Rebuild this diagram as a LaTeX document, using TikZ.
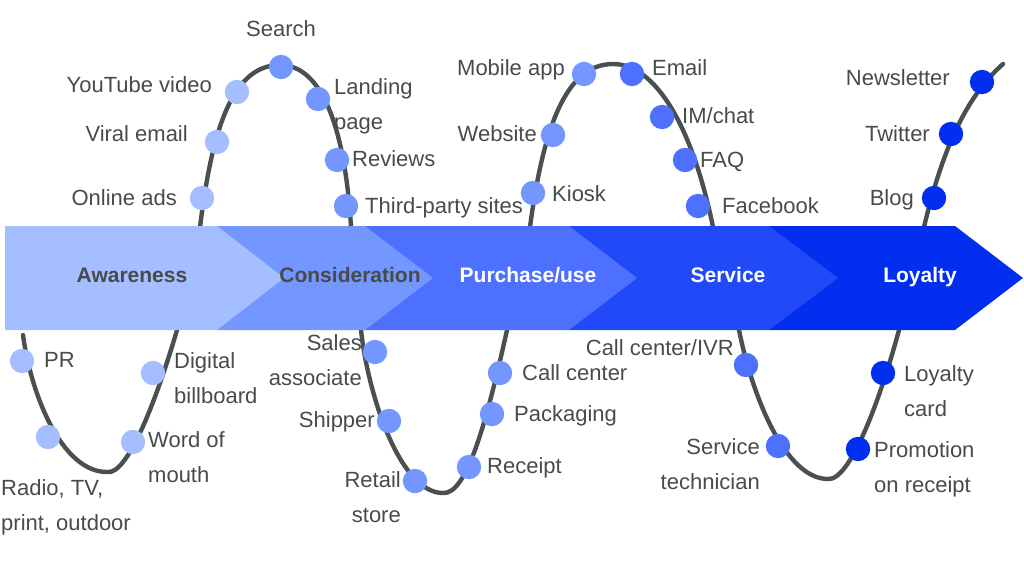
\documentclass[tikz,border=0pt]{standalone}
\usepackage{fontspec}
\setmainfont{Liberation Sans}
\definecolor{c1}{HTML}{A4BEFF}
\definecolor{c2}{HTML}{7396FF}
\definecolor{c3}{HTML}{4D70FF}
\definecolor{c4}{HTML}{2149F8}
\definecolor{c5}{HTML}{022FEF}
\definecolor{ink}{HTML}{474B4B}
\definecolor{wave}{HTML}{4A5050}
\newcommand\nl{\\\strut}
\tikzset{
  dot/.style={circle,fill=#1,inner sep=0pt,minimum size=24.4pt},
  lab/.style={text=ink,font=\fontsize{22}{35}\selectfont,inner sep=0pt,align=left,execute at begin node=\strut},
  rlab/.style={lab,align=right},
  stage/.style={font=\fontsize{21}{25}\bfseries\selectfont,inner sep=0pt,anchor=base},
  curve/.style={draw=wave,line width=4.4pt,line cap=round,line join=round}
}
\begin{document}
\begin{tikzpicture}[x=1pt,y=-1pt]
\useasboundingbox (0,0) rectangle (1024,567);
\draw[curve] (23,335)
  .. controls (31,395) and (62,472) .. (107,472)
  .. controls (128,476) and (158,395) .. (177,330)
  -- (200,227)
  .. controls (212,130) and (232,65) .. (280,65)
  .. controls (322,65) and (345,128) .. (351,227)
  -- (361,330)
  .. controls (368,395) and (400,493) .. (443,493)
  .. controls (466,495) and (486,425) .. (507,330)
  -- (530,227)
  .. controls (543,130) and (565,64) .. (613,64)
  .. controls (655,64) and (692,125) .. (713,227)
  -- (739,330)
  .. controls (752,395) and (785,479) .. (828,479)
  .. controls (850,481) and (880,400) .. (899,330)
  -- (924,227)
  .. controls (940,160) and (962,100) .. (1003,64);
\fill[c5] (769,226)--(955,226)--(1023,278)--(955,330)--(769,330)--cycle;
\fill[c4] (569,226)--(769,226)--(838,278)--(769,330)--(569,330)--cycle;
\fill[c3] (365,226)--(569,226)--(637,278)--(569,330)--(365,330)--cycle;
\fill[c2] (217,226)--(365,226)--(433,278)--(365,330)--(217,330)--cycle;
\fill[c1] (5,226)--(217,226)--(284,278)--(217,330)--(5,330)--cycle;
\node[stage,text=ink] (s1) at (132,282) {Awareness};
\node[stage,text=ink] (s2) at (350,282) {Consideration};
\node[stage,text=white] (s3) at (528,282) {Purchase/use};
\node[stage,text=white] (s4) at (728,282) {Service};
\node[stage,text=white] (s5) at (920,282) {Loyalty};
\foreach \n/\x/\y/\c in {a/22/361/c1,b/48/437/c1,c/133/442/c1,d/153/373/c1,e/202/198/c1,f/217/142/c1,g/237/92/c1,
 h/281/67/c2,i/318/99/c2,j/337/160/c2,k/346/206/c2,l/375/352/c2,m/389/421/c2,n/415/481/c2,
 o/469/467/c2,p/492/414/c2,q/500/373/c2,r/533/193/c2,s/553/135/c2,t/584/74/c2,
 u/632/74/c3,v/662/117/c3,w/685/160/c3,y/698/206/c3,z/746/365/c3,aa/778/446/c3,
 ab/858/449/c5,ac/883/373/c5,ad/934/198/c5,ae/951/134/c5,af/982/82/c5}
  \node[dot=\c] (\n) at (\x,\y) {};
\node[lab,anchor=west] (t1) at (44,360) {PR};
\node[lab,anchor=west] (t2) at (1,510.5) {Radio, TV,\nl print, outdoor};
\node[lab,anchor=west] (t3) at (148,462.5) {Word of\nl mouth};
\node[lab,anchor=west] (t4) at (174,383.5) {Digital\nl billboard};
\node[rlab,anchor=east] (t5) at (177,198) {Online ads};
\node[rlab,anchor=east] (t6) at (188,134) {Viral email};
\node[rlab,anchor=east] (t7) at (212,86) {YouTube video};
\node[lab] (t8) at (281,30) {Search};
\node[lab,anchor=west] (t9) at (334,109.5) {Landing\nl page};
\node[lab,anchor=west] (t10) at (352,159) {Reviews};
\node[lab,anchor=west] (t11) at (365,206) {Third-party sites};
\node[rlab,anchor=east] (t12) at (362,365.5) {Sales\nl associate};
\node[rlab,anchor=east] (t13) at (375,420) {Shipper};
\node[rlab,anchor=east] (t14) at (401,502.5) {Retail\nl store};
\node[lab,anchor=west] (t15) at (487,466) {Receipt};
\node[lab,anchor=west] (t16) at (514,414) {Packaging};
\node[lab,anchor=west] (t17) at (522,373) {Call center};
\node[lab,anchor=west] (t18) at (552,194) {Kiosk};
\node[rlab,anchor=east] (t19) at (537,134) {Website};
\node[rlab,anchor=east] (t20) at (565,69) {Mobile app};
\node[lab,anchor=west] (t21) at (652,69) {Email};
\node[lab,anchor=west] (t22) at (682,116) {IM/chat};
\node[lab,anchor=west] (t23) at (700,160) {FAQ};
\node[lab,anchor=west] (t24) at (722,206) {Facebook};
\node[rlab,anchor=east] (t25) at (734,348) {Call center/IVR};
\node[rlab,anchor=east] (t26) at (760,469.5) {Service\nl technician};
\node[lab,anchor=west] (t27) at (874,472.5) {Promotion\nl on receipt};
\node[lab,anchor=west] (t28) at (904,396.5) {Loyalty\nl card};
\node[rlab,anchor=east] (t29) at (914,198) {Blog};
\node[rlab,anchor=east] (t30) at (930,134) {Twitter};
\node[rlab,anchor=east] (t31) at (950,79) {Newsletter};
\end{tikzpicture}
\end{document}
